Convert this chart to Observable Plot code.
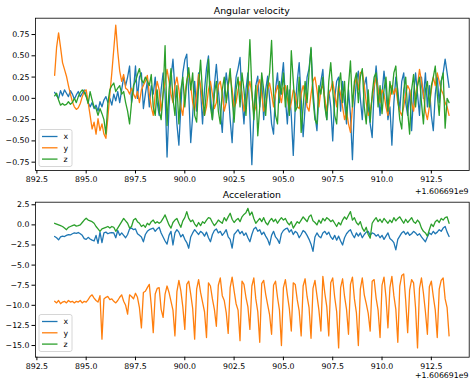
<!DOCTYPE html>
<html><head><meta charset="utf-8">
<script src="https://cdn.jsdelivr.net/npm/d3@7"></script>
<script src="https://cdn.jsdelivr.net/npm/@observablehq/plot@0.6"></script>
<style>
body{margin:0;background:#fff;}
#wrap{position:relative;width:474px;height:384px;font-family:"DejaVu Sans",sans-serif;color:#000;overflow:hidden;}
.title{position:absolute;font-size:9.4px;transform:translate(-50%,-50%);white-space:nowrap;}
.offset{position:absolute;font-size:7.8px;transform:translate(-100%,-50%);white-space:nowrap;}
.pane{position:absolute;left:0;}
</style></head><body><div id="wrap"></div>
<script>
// sample clock (seconds, minus offset 1.606691e9)
const T0 = 893.4, DT = 0.1;
const OFFSET_LABEL = "+1.606691e9";
const seriesNames = ["x", "y", "z"];
const seriesColors = ["#1f77b4", "#ff7f0e", "#2ca02c"];
const xTicks = [892.5, 895.0, 897.5, 900.0, 902.5, 905.0, 907.5, 910.0, 912.5];
const gyroTicks = [-0.75, -0.5, -0.25, 0, 0.25, 0.5, 0.75];
const accTicks = [-15, -12.5, -10, -7.5, -5, -2.5, 0, 2.5];

// Angular velocity
const gx = [
0.07,0.03,0.00,0.09,0.03,0.10,0.06,0.02,0.09,0.05,
-0.01,0.04,0.08,0.02,0.06,0.10,0.03,-0.05,-0.10,-0.05,
-0.12,-0.08,-0.15,-0.04,-0.10,-0.02,0.02,-0.05,0.00,-0.08,
0.05,-0.03,0.08,-0.05,0.10,0.25,0.15,0.25,0.38,-0.05,
0.10,0.38,0.00,0.25,0.30,-0.12,0.05,0.20,-0.10,0.15,
0.05,0.25,-0.05,-0.20,0.10,0.30,0.05,-0.69,-0.10,0.25,
0.46,0.10,-0.30,-0.55,-0.10,0.30,0.45,0.52,0.05,-0.52,
-0.20,0.20,-0.15,0.30,0.10,-0.30,0.10,0.35,0.50,0.05,
-0.25,0.15,0.40,0.10,-0.15,-0.40,0.05,0.30,0.10,-0.25,
-0.52,-0.05,0.25,0.35,0.48,0.00,-0.30,0.10,0.30,-0.20,
-0.78,-0.20,0.15,0.26,-0.10,0.20,-0.25,0.10,0.26,0.00,
-0.30,-0.42,0.10,0.30,-0.05,0.20,0.42,0.00,-0.30,0.10,
-0.20,-0.67,-0.10,0.20,0.42,0.00,-0.45,-0.10,0.25,0.35,
0.58,0.10,-0.20,-0.38,0.05,0.20,0.34,-0.05,-0.25,0.10,
-0.10,-0.50,0.00,0.20,0.25,-0.15,0.20,-0.05,-0.30,0.10,
-0.20,-0.72,-0.10,0.20,0.32,0.00,-0.25,0.15,0.25,-0.10,
-0.30,-0.46,0.10,0.38,0.10,-0.20,0.05,0.32,0.10,-0.25,
-0.10,-0.55,-0.05,0.25,0.10,-0.15,0.20,0.30,-0.05,-0.20,
0.10,-0.38,0.05,0.30,0.05,-0.20,0.25,0.00,0.30,-0.10,
0.15,-0.20,-0.38,0.05,0.25,-0.05,0.20,0.30,0.46,0.30,
0.13];
const gy = [
0.27,0.60,0.77,0.60,0.42,0.34,0.26,0.15,0.05,-0.04,
-0.10,-0.13,-0.11,-0.06,0.02,0.08,0.10,-0.05,-0.20,-0.36,
-0.28,-0.42,-0.24,-0.38,-0.30,-0.42,-0.47,-0.22,0.05,0.30,
0.58,0.86,0.55,0.32,0.20,0.28,0.12,0.10,0.05,0.12,
0.05,0.00,0.08,-0.05,0.10,0.15,0.20,0.27,0.05,-0.10,
-0.20,0.05,0.20,0.10,-0.15,0.05,0.20,0.34,0.20,0.05,
-0.05,0.15,0.25,0.10,-0.10,-0.20,0.05,0.20,0.30,0.15,
-0.05,-0.15,0.05,0.28,0.15,-0.05,-0.20,-0.10,0.10,0.20,
0.05,-0.12,-0.05,0.15,0.20,0.05,-0.15,-0.05,0.15,0.27,
0.10,-0.10,-0.05,0.10,0.20,0.05,-0.15,-0.05,0.10,0.20,
0.05,-0.18,-0.10,0.15,0.22,0.05,-0.15,-0.08,0.10,0.18,
0.05,-0.10,0.05,0.15,0.05,-0.05,0.12,0.15,0.00,-0.15,
-0.05,0.10,0.05,-0.10,-0.12,0.05,0.15,0.05,-0.10,-0.15,
0.05,0.20,0.25,0.10,-0.10,0.10,0.15,0.00,-0.15,0.05,
0.10,0.20,0.05,-0.10,0.15,0.05,-0.10,-0.25,-0.15,-0.30,
-0.40,-0.10,0.15,0.25,0.10,0.30,0.32,0.15,-0.05,-0.20,
-0.15,0.00,0.15,0.25,0.10,-0.05,0.10,0.05,-0.10,-0.20,
0.00,0.15,0.05,0.12,-0.05,-0.15,-0.20,-0.10,0.05,0.15,
0.10,-0.05,-0.15,0.05,0.15,0.34,0.20,0.05,-0.15,-0.25,
-0.10,0.10,0.25,0.15,0.30,0.20,0.10,0.05,-0.05,-0.10,
-0.20];
const gz = [
0.03,0.06,-0.02,-0.08,-0.06,-0.08,-0.07,-0.04,-0.07,-0.05,
0.00,-0.05,0.02,0.07,0.10,0.07,0.02,-0.06,0.08,-0.02,
-0.10,-0.12,-0.20,-0.12,-0.18,-0.25,-0.42,-0.05,0.10,0.15,
0.18,0.08,0.12,0.15,0.05,0.08,-0.05,-0.15,-0.30,-0.05,
0.15,0.20,0.28,0.35,0.22,0.18,0.25,0.20,0.15,0.28,
-0.10,-0.20,0.10,-0.15,-0.25,0.05,0.62,-0.32,0.10,0.35,
0.00,-0.20,0.15,-0.30,0.10,0.25,-0.10,0.20,0.36,0.10,
0.30,-0.20,-0.28,0.15,0.45,0.05,-0.20,0.10,0.46,-0.10,
-0.25,0.05,0.20,-0.15,-0.30,0.10,0.25,-0.05,0.15,0.35,
0.00,-0.28,0.10,0.25,-0.10,0.30,0.10,-0.20,0.20,0.69,
0.10,-0.25,0.15,-0.44,-0.10,0.30,0.10,-0.20,0.15,0.30,
0.68,0.05,-0.20,-0.30,0.20,0.05,0.30,-0.10,0.15,-0.20,
0.56,0.20,-0.15,-0.10,0.25,-0.40,-0.10,0.20,-0.05,0.30,
0.60,0.00,-0.25,-0.30,0.15,0.05,0.25,-0.10,-0.25,0.20,
0.42,0.10,-0.20,-0.30,0.15,0.30,-0.05,0.20,-0.25,0.15,
0.44,-0.10,0.20,0.30,-0.05,0.25,0.35,-0.10,-0.30,0.10,
-0.28,0.05,0.25,0.30,-0.10,0.15,-0.18,0.10,0.25,-0.15,
0.20,0.05,0.30,0.38,0.00,-0.25,-0.36,0.10,0.25,-0.15,
-0.42,0.10,0.28,-0.10,0.15,0.25,-0.05,-0.30,0.10,0.20,
-0.10,0.15,0.25,0.38,0.05,-0.20,0.20,0.30,-0.35,0.00,
-0.05];

// Acceleration
const ax = [
-1.44,-1.6,-1.86,-1.5,-1.4,-1.45,-1.3,-1.2,-1.25,-1.1,
-1.0,-1.05,-0.95,-1.1,-1.3,-1.7,-1.8,-1.55,-1.75,-1.9,
-2.0,-1.3,-2.3,-0.9,-2.2,-1.0,-0.9,-1.1,-1.0,-0.95,
-1.0,-1.6,-0.7,-1.3,-1.0,-1.3,-1.6,-1.2,-0.5,-0.4,
-0.6,-0.5,-1.1,-1.3,-1.5,-2.1,-1.2,-0.8,-0.6,-0.5,
-0.4,-0.8,-0.5,-0.3,-1.0,-1.5,-2.0,-2.4,-1.3,-0.8,
-2.5,-1.0,-0.6,-0.9,-1.5,-1.2,-1.8,-2.2,-2.9,-1.5,
-1.0,-0.6,-0.9,-1.2,-0.8,-1.0,-1.4,-0.9,-1.6,-2.1,
-1.2,-0.7,-0.5,-1.0,-0.8,-1.3,-1.0,-0.6,-1.5,-1.8,
-2.9,-1.2,-0.9,-0.6,-1.1,-0.8,-1.3,-1.0,-1.6,-2.1,
-1.2,-0.5,-0.3,-0.8,-0.6,-1.2,-0.9,-1.4,-1.8,-2.5,
-1.3,-0.8,-1.5,-1.8,-2.3,-1.1,-0.7,-0.5,-0.4,-0.9,
-0.6,-1.2,-0.8,-1.0,-1.6,-1.2,-0.7,-0.9,-1.3,-1.8,
-2.4,-3.3,-1.5,-1.0,-1.4,-1.6,-1.0,-0.8,-1.2,-0.9,
-1.5,-1.8,-1.3,-1.9,-1.4,-2.0,-2.5,-1.6,-1.1,-0.8,
-0.6,-1.2,-1.6,-1.0,-1.4,-1.0,-1.6,-1.2,-0.9,-0.8,
-1.3,-1.0,-1.1,-1.4,-1.2,-1.6,-1.3,-1.8,-1.4,-1.0,
-1.7,-1.9,-2.2,-3.1,-1.8,-1.4,-1.0,-0.8,-1.2,-0.9,
-1.3,-1.1,-0.8,-1.0,-1.3,-1.1,-1.5,-1.8,-2.1,-1.5,
-1.0,-1.2,-0.8,-1.1,-0.9,-0.6,-0.8,-0.4,-0.2,-0.9,
-1.44];
const ay = [
-9.5,-9.7,-9.4,-9.8,-9.6,-9.5,-9.7,-9.4,-9.6,-9.5,
-9.7,-9.5,-9.6,-9.4,-9.7,-9.5,-9.6,-9.3,-8.9,-8.7,
-9.1,-9.4,-9.6,-8.8,-14.2,-9.2,-9.0,-8.9,-9.3,-9.2,
-9.5,-9.7,-9.4,-9.0,-8.7,-9.5,-10.0,-11.1,-8.7,-8.9,
-9.2,-8.5,-9.0,-10.3,-12.8,-8.4,-8.25,-7.8,-7.4,-10.0,
-13.4,-8.6,-7.9,-7.8,-10.5,-11.5,-8.6,-7.6,-8.4,-9.5,
-10.6,-13.8,-8.3,-6.9,-8.2,-10.2,-13.0,-7.4,-7.0,-8.6,
-10.4,-14.2,-8.0,-6.8,-8.4,-9.6,-10.8,-14.0,-7.2,-7.6,
-9.2,-10.5,-12.6,-7.5,-6.6,-8.8,-9.4,-10.9,-13.5,-7.8,
-6.5,-8.2,-9.8,-10.6,-14.4,-7.0,-7.4,-9.0,-10.2,-13.0,
-7.6,-6.6,-9.2,-10.8,-14.6,-7.3,-6.9,-8.6,-9.9,-11.2,
-13.6,-7.5,-7.0,-9.0,-10.6,-15.0,-7.8,-6.8,-8.7,-10.4,
-13.2,-7.2,-7.4,-9.3,-10.7,-13.8,-7.6,-6.7,-8.9,-10.3,
-14.1,-7.9,-6.9,-8.8,-10.6,-13.2,-6.4,-8.5,-10.2,-13.8,
-7.2,-6.6,-9.0,-10.8,-15.3,-7.8,-6.7,-8.9,-10.5,-13.6,
-7.4,-6.5,-9.2,-10.9,-15.0,-8.0,-6.6,-8.7,-9.8,-11.0,
-13.2,-7.0,-6.8,-9.1,-10.6,-14.0,-7.5,-6.5,-9.0,-12.8,
-7.8,-6.4,-8.8,-10.5,-14.6,-7.6,-6.3,-6.1,-9.4,-13.4,
-8.1,-6.8,-7.2,-10.3,-15.3,-7.9,-6.6,-8.5,-10.8,-13.6,
-7.7,-7.0,-8.9,-10.6,-14.0,-8.0,-6.9,-6.6,-9.2,-10.3,
-13.8];
const az = [
0.2,0.1,0.0,-0.1,-0.2,-0.4,-0.6,-0.3,-0.2,-0.1,
0.0,-0.15,-0.1,0.0,0.3,0.6,0.82,0.6,0.5,0.4,
0.2,-0.2,-0.5,-0.8,-0.5,-0.4,-0.3,-0.2,-0.4,-0.2,
-0.3,-0.8,-0.4,0.0,0.4,0.8,0.5,0.2,-0.4,-0.2,
0.6,0.8,0.4,0.2,-0.2,0.0,-0.3,0.2,0.0,0.4,
0.6,0.2,0.4,0.2,0.4,0.8,1.24,0.6,0.0,-0.4,
0.3,0.6,0.8,0.2,-0.3,0.5,0.9,1.65,0.8,0.4,
0.6,0.1,-0.2,0.3,-0.1,0.4,0.2,0.6,0.9,0.8,
0.3,-0.1,0.2,0.6,0.4,0.2,0.9,0.5,1.0,1.44,
0.7,0.3,0.6,0.8,0.4,1.0,1.3,1.5,2.06,1.2,
1.6,0.8,0.2,0.5,0.8,0.4,0.9,0.3,0.0,0.5,
0.8,0.4,0.7,0.2,0.6,0.9,0.6,0.8,0.3,0.0,
0.4,-0.4,0.0,0.4,0.2,0.6,1.0,0.7,0.4,1.0,
1.24,0.5,0.3,0.0,0.6,0.2,0.8,0.5,0.9,0.7,
0.4,0.6,0.2,-0.2,0.3,0.0,0.6,1.0,0.7,1.2,
1.65,0.6,0.9,0.3,0.0,0.4,-0.4,-0.8,-0.3,-1.2,
-1.65,0.2,0.6,0.9,0.4,0.7,0.3,0.8,0.5,0.2,
0.6,0.3,0.9,0.5,0.8,1.0,0.6,0.2,0.7,0.3,
0.6,0.9,0.4,0.2,0.6,0.3,-0.4,-0.8,-1.0,-1.4,
-0.6,0.1,-0.2,0.4,0.6,0.3,0.8,0.6,0.9,1.0,
0.2];

const time = gx.map((_, i) => +(T0 + i * DT).toFixed(2));
const wrap = document.getElementById("wrap");

function panel(series, yDomain, yTicks, yFmt, top, height, mt, mb) {
  const rows = [];
  series.forEach((vals, k) => vals.forEach((v, i) => rows.push({t: time[i], v, s: seriesNames[k]})));
  const svg = Plot.plot({
    width: 474, height,
    marginTop: mt, marginBottom: mb, marginLeft: 35, marginRight: 5.3,
    style: {fontFamily: "DejaVu Sans", fontSize: "7.8px", color: "#000", background: "transparent", overflow: "visible"},
    x: {domain: [892.43, 914.42], ticks: xTicks, tickFormat: d3.format(".1f"), label: null, tickSize: 3.5, tickPadding: 2.5},
    y: {domain: yDomain, ticks: yTicks, tickFormat: yFmt, label: null, tickSize: 3.5, tickPadding: 2.5},
    color: {domain: seriesNames, range: seriesColors},
    marks: [
      Plot.lineY(rows, {x: "t", y: "v", z: "s", stroke: "s", strokeWidth: 1.3, strokeLinejoin: "round"}),
      Plot.frame({stroke: "#000", strokeWidth: 0.8})
    ]
  });
  svg.classList.add("pane");
  svg.style.top = top + "px";
  wrap.appendChild(svg);
}

panel([gx, gy, gz], [-0.848, 0.942], gyroTicks, d3.format(".2f"), 0, 192, 17.7, 22);
panel([ax, ay, az], [-16.45, 2.82], accTicks, d3.format(".1f"), 192, 192, 9.7, 27.3);

function addText(cls, txt, x, y) {
  const d = document.createElement("div");
  d.className = cls; d.textContent = txt;
  d.style.left = x + "px"; d.style.top = y + "px";
  wrap.appendChild(d);
}
addText("title", "Angular velocity", 251.8, 10);
addText("title", "Acceleration", 251.8, 194);
addText("offset", OFFSET_LABEL, 468.5, 191);
addText("offset", OFFSET_LABEL, 468.5, 374.5);

function legend(boxTop) {
  const ns = "http://www.w3.org/2000/svg";
  const s = document.createElementNS(ns, "svg");
  s.setAttribute("width", 40); s.setAttribute("height", 42);
  s.style.position = "absolute"; s.style.left = "38px"; s.style.top = boxTop + "px";
  const r = document.createElementNS(ns, "rect");
  r.setAttribute("x", 1); r.setAttribute("y", 0.5); r.setAttribute("width", 33); r.setAttribute("height", 37);
  r.setAttribute("rx", 2); r.setAttribute("fill", "#fff"); r.setAttribute("fill-opacity", 0.8);
  r.setAttribute("stroke", "#ccc"); r.setAttribute("stroke-width", 0.8);
  s.appendChild(r);
  seriesNames.forEach((n, k) => {
    const y = 7.5 + k * 11.3;
    const l = document.createElementNS(ns, "line");
    l.setAttribute("x1", 4); l.setAttribute("x2", 19.5); l.setAttribute("y1", y); l.setAttribute("y2", y);
    l.setAttribute("stroke", seriesColors[k]); l.setAttribute("stroke-width", 1.3);
    s.appendChild(l);
    const t = document.createElementNS(ns, "text");
    t.setAttribute("x", 25.5); t.setAttribute("y", y); t.setAttribute("dy", "0.35em");
    t.setAttribute("font-family", "DejaVu Sans"); t.setAttribute("font-size", "7.8px");
    t.textContent = n;
    s.appendChild(t);
  });
  wrap.appendChild(s);
}
legend(129.3);
legend(313.5);
</script></body></html>
